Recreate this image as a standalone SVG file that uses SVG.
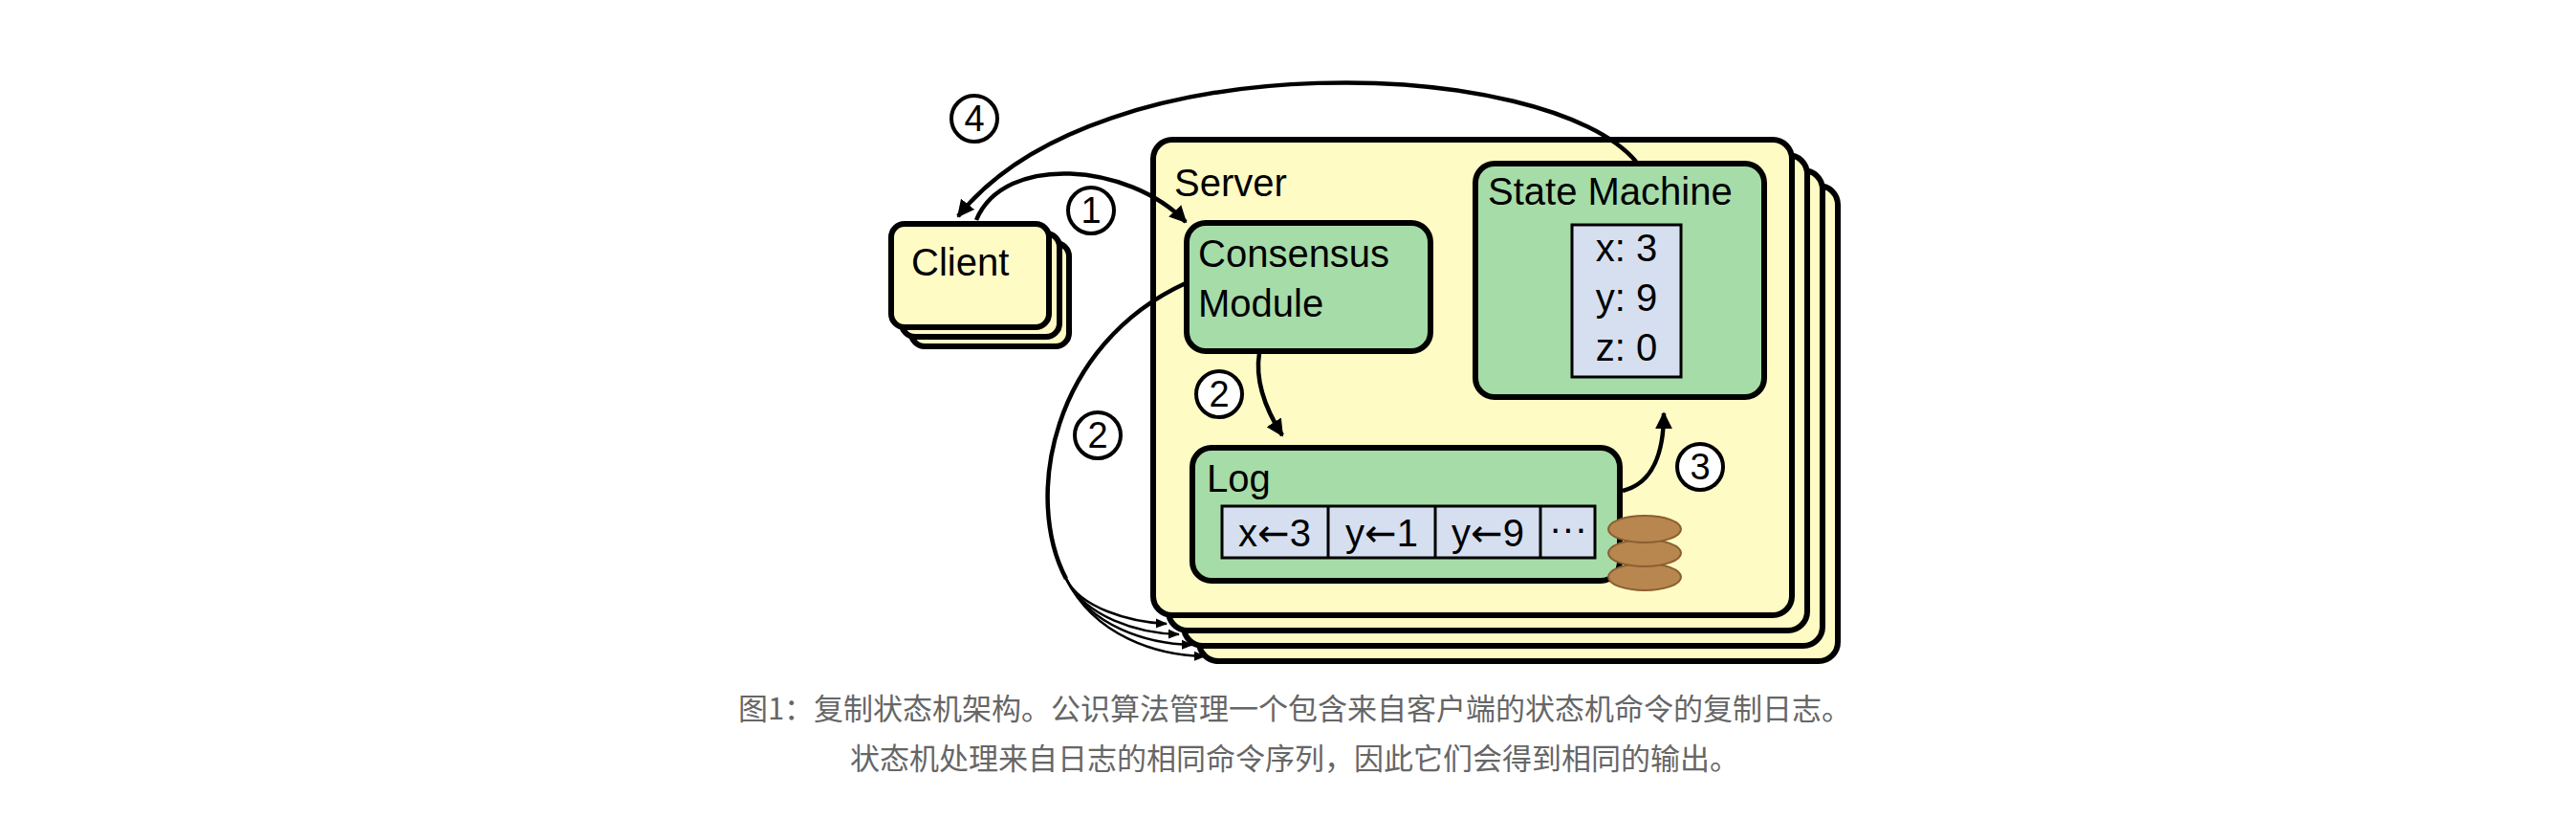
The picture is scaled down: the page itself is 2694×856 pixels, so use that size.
<svg xmlns="http://www.w3.org/2000/svg" width="2694" height="856" viewBox="0 0 2694 856">
<style>
.y{fill:#fffbc4;stroke:#000;stroke-width:6}
.g{fill:#a6dca8;stroke:#000;stroke-width:6}
.b{fill:#d6dff0;stroke:#000;stroke-width:3}
.t{font-family:"Liberation Sans",Arial,sans-serif;font-size:40px;fill:#000}
.ar{font-family:"DejaVu Sans",sans-serif}
.c{fill:#fff;stroke:#000;stroke-width:4}
.n{font-family:"Liberation Sans",Arial,sans-serif;font-size:38px;text-anchor:middle;fill:#000}
.l{fill:none;stroke:#000;stroke-width:4.5}
.f{fill:none;stroke:#000;stroke-width:2.5}
.d{fill:#b8864f;stroke:#8a5f30;stroke-width:2}
.cap{font-family:"Noto Sans CJK SC",sans-serif;font-size:31px;fill:#666;text-anchor:middle}
</style>
<defs>
<marker id="a" viewBox="0 0 10 10" refX="9" refY="5" markerWidth="4" markerHeight="4" orient="auto"><path d="M0,0L10,5L0,10z"/></marker>
<marker id="s" viewBox="0 0 10 10" refX="9" refY="5" markerWidth="5" markerHeight="5" orient="auto"><path d="M0,1L10,5L0,9z"/></marker>
</defs>
<rect width="2694" height="856" fill="#fff"/>
<g id="client">
<rect class="y" x="953" y="254" width="165" height="108" rx="14"/>
<rect class="y" x="943" y="244" width="165" height="108" rx="14"/>
<rect class="y" x="932" y="234" width="165" height="108" rx="14"/>
<text class="t" x="953" y="288">Client</text>
</g>
<g id="server">
<rect class="y" x="1254" y="194" width="668" height="497" rx="20"/>
<rect class="y" x="1238" y="178" width="668" height="497" rx="20"/>
<rect class="y" x="1222" y="162" width="668" height="497" rx="20"/>
<rect class="y" x="1206" y="146" width="668" height="497" rx="20"/>
<text class="t" x="1228" y="205">Server</text>
</g>
<g id="consensus">
<rect class="g" x="1241" y="233" width="255" height="134" rx="20"/>
<text class="t" x="1253" y="279">Consensus</text>
<text class="t" x="1253" y="331">Module</text>
</g>
<g id="statemachine">
<rect class="g" x="1543" y="171" width="302" height="244" rx="20"/>
<text class="t" x="1556" y="214">State Machine</text>
<rect class="b" x="1644" y="235" width="114" height="159"/>
<text class="t" x="1701" y="273" text-anchor="middle">x: 3</text>
<text class="t" x="1701" y="325" text-anchor="middle">y: 9</text>
<text class="t" x="1701" y="377" text-anchor="middle">z: 0</text>
</g>
<g id="log">
<rect class="g" x="1247" y="468" width="447" height="139" rx="20"/>
<text class="t" x="1262" y="514">Log</text>
<rect class="b" x="1278" y="529" width="390" height="54"/>
<line class="b" x1="1389" y1="529" x2="1389" y2="583"/>
<line class="b" x1="1501" y1="529" x2="1501" y2="583"/>
<line class="b" x1="1611" y1="529" x2="1611" y2="583"/>
<text class="t" x="1333" y="571" text-anchor="middle">x<tspan class="ar">←</tspan>3</text>
<text class="t" x="1445" y="571" text-anchor="middle">y<tspan class="ar">←</tspan>1</text>
<text class="t" x="1556" y="571" text-anchor="middle">y<tspan class="ar">←</tspan>9</text>
<text class="t" x="1640" y="566" text-anchor="middle">···</text>
</g>
<g id="disk">
<ellipse class="d" cx="1720" cy="603" rx="38" ry="14"/>
<ellipse class="d" cx="1720" cy="578" rx="38" ry="14"/>
<ellipse class="d" cx="1720" cy="553" rx="38" ry="14"/>
</g>
<g id="connectors">
<path class="l" d="M1711,169 C1620,60 1150,40 1002,226" marker-end="url(#a)"/>
<path class="l" d="M1021,230 C1050,160 1180,170 1240,232" marker-end="url(#a)"/>
<path class="l" d="M1317,369 C1312,400 1325,430 1341,455" marker-end="url(#a)"/>
<path class="l" d="M1697,513 C1730,505 1740,470 1740,432" marker-end="url(#a)"/>
<path class="l" d="M1240,296 C1100,360 1070,520 1115,605"/>
<path class="f" d="M1115,605 C1130,635 1180,650 1220,652" marker-end="url(#s)"/>
<path class="f" d="M1115,605 C1135,645 1190,662 1233,663" marker-end="url(#s)"/>
<path class="f" d="M1115,605 C1140,655 1200,673 1247,674" marker-end="url(#s)"/>
<path class="f" d="M1115,605 C1145,665 1210,685 1260,686" marker-end="url(#s)"/>
</g>
<g id="labels">
<circle class="c" cx="1019" cy="124" r="24"/><text class="n" x="1019" y="137">4</text>
<circle class="c" cx="1141" cy="220" r="24"/><text class="n" x="1141" y="233">1</text>
<circle class="c" cx="1275" cy="412" r="24"/><text class="n" x="1275" y="425">2</text>
<circle class="c" cx="1148" cy="455" r="24"/><text class="n" x="1148" y="468">2</text>
<circle class="c" cx="1778" cy="488" r="24"/><text class="n" x="1778" y="501">3</text>
</g>
<text class="cap" x="1354" y="752">图1：复制状态机架构。公识算法管理一个包含来自客户端的状态机命令的复制日志。</text>
<text class="cap" x="1354" y="804">状态机处理来自日志的相同命令序列，因此它们会得到相同的输出。</text>
</svg>
